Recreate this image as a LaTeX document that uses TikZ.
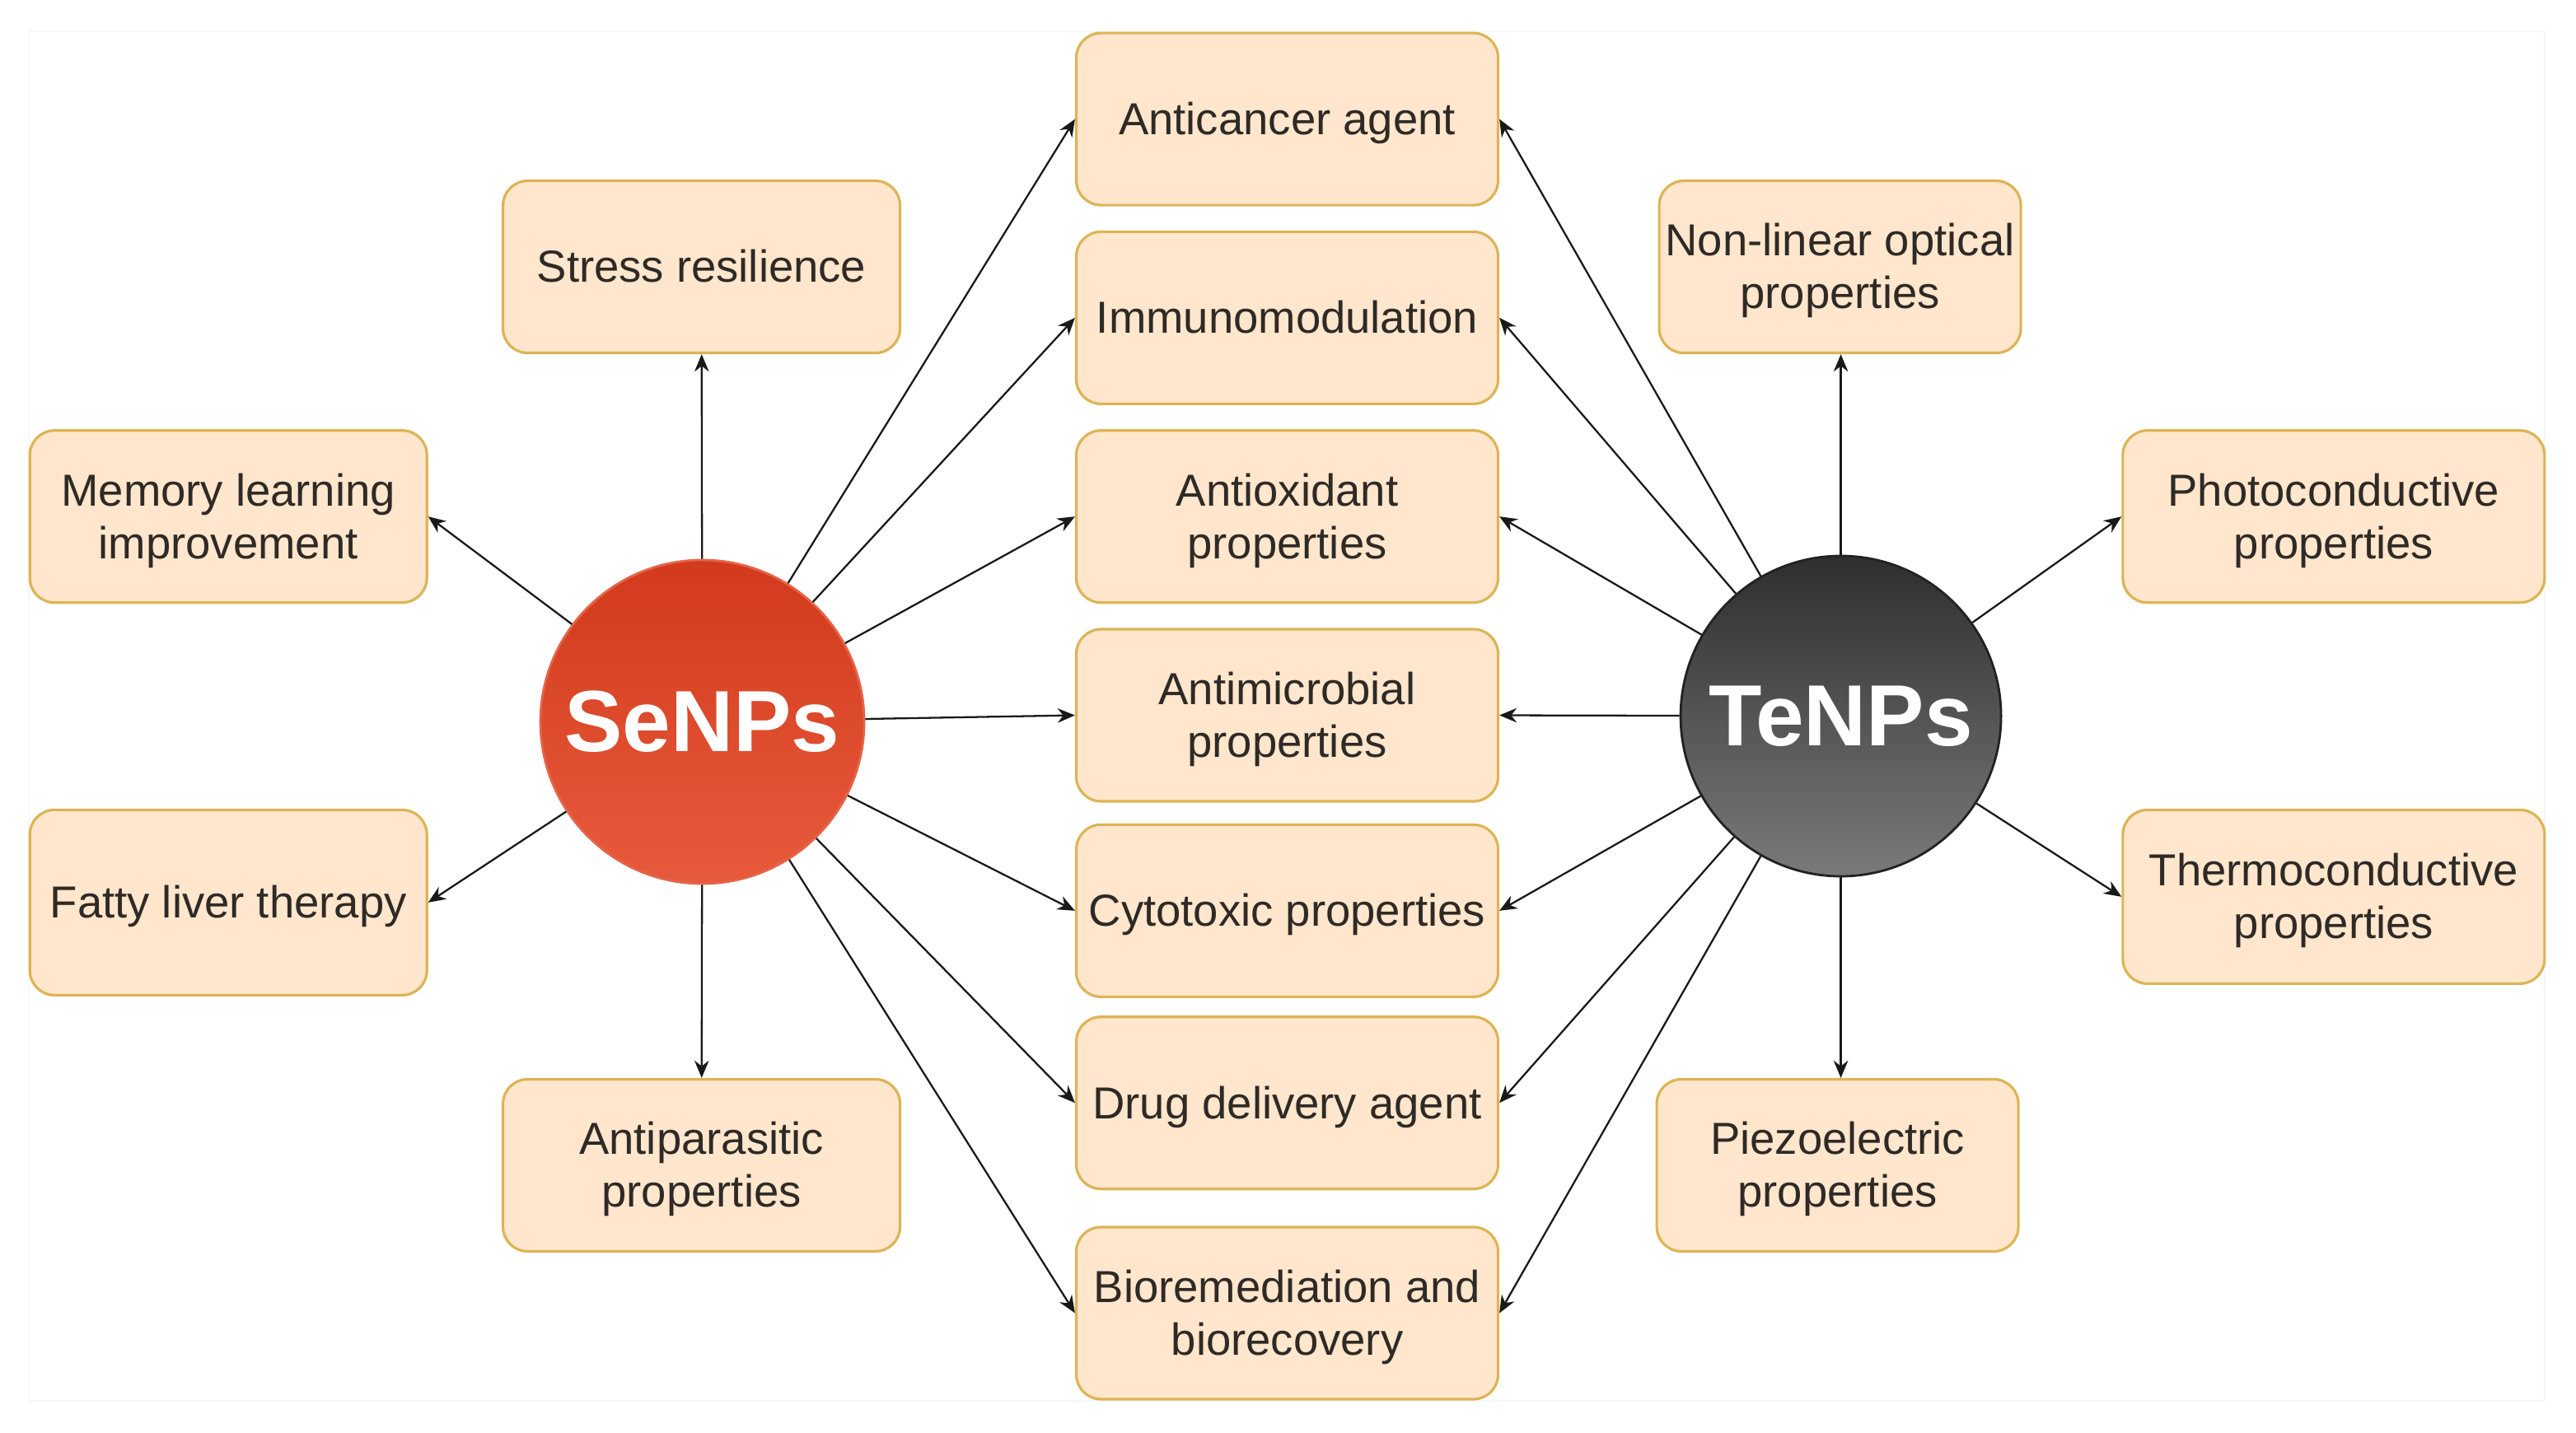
\documentclass[tikz,border=0pt]{standalone}
\usepackage{fontspec}
\setmainfont{Liberation Sans}
\usetikzlibrary{arrows.meta}
\definecolor{boxfill}{HTML}{FFE6CC}
\definecolor{boxdraw}{HTML}{DDB454}
\definecolor{txt}{HTML}{2E2A26}
\definecolor{seTop}{HTML}{D23A1C}
\definecolor{seBot}{HTML}{E85A3C}
\definecolor{seEdge}{HTML}{E4644A}
\definecolor{teTop}{HTML}{2E2E2E}
\definecolor{teBot}{HTML}{7A7A7A}
\definecolor{teEdge}{HTML}{222222}
\tikzset{
  box/.style={draw=boxdraw, fill=boxfill, line width=0.9pt, rounded corners=0.3cm,
    align=center, text=txt, inner sep=2pt, text depth=0.5pt,
    font=\fontsize{15.5}{18.2}\selectfont},
  cw/.style={minimum width=5.12cm, minimum height=2.09cm},
  lw/.style={minimum width=4.82cm, minimum height=2.09cm},
  rw/.style={minimum width=4.39cm, minimum height=2.09cm},
  pw/.style={minimum width=5.12cm, minimum height=2.09cm},
  hub/.style={circle, line width=0.8pt, text=white,
    font=\fontsize{30}{34}\selectfont\bfseries},
  arr/.style={draw=black!90, line width=0.65pt, -{Stealth[length=6pt,width=5pt]}}
}
\begin{document}
\begin{tikzpicture}[x=0.01994cm, y=-0.01994cm]
\useasboundingbox (0,0) rectangle (1568,872);
\draw[black!3, line width=0.6pt] (17.5,19) rectangle (1549,853);

% centre column
\node[box,cw] (ac) at (783.5,72.5) {Anticancer agent};
\node[box,cw] (im) at (783.5,193.5) {Immunomodulation};
\node[box,cw] (ao) at (783.5,314.5) {Antioxidant\\properties};
\node[box,cw] (am) at (783.5,435.5) {Antimicrobial\\properties};
\node[box,cw] (ct) at (783.5,554.5) {Cytotoxic properties};
\node[box,cw] (dd) at (783.5,671.5) {Drug delivery agent};
\node[box,cw] (br) at (783.5,799.5) {Bioremediation and\\biorecovery};

% left
\node[box,lw] (sr) at (427,162.5) {Stress resilience};
\node[box,lw] (ml) at (139,314.5) {Memory learning\\improvement};
\node[box,lw,minimum height=2.25cm] (fl) at (139,549.5) {Fatty liver therapy};
\node[box,lw] (ap) at (427,709.5) {Antiparasitic\\properties};

% right
\node[box,rw] (nl) at (1120,162.5) {Non-linear optical\\properties};
\node[box,pw] (pc) at (1420.5,314.5) {Photoconductive\\properties};
\node[box,pw,minimum height=2.11cm] (tc) at (1420.5,546) {Thermoconductive\\properties};
\node[box,rw] (pz) at (1118.5,709.5) {Piezoelectric\\properties};

% hubs
\node[hub, minimum size=3.93cm, draw=seEdge, top color=seTop, bottom color=seBot] (se) at (427.5,439.5) {SeNPs};
\node[hub, minimum size=3.89cm, draw=teEdge, top color=teTop, bottom color=teBot] (te) at (1120.5,436) {TeNPs};

% SeNPs connectors
\draw[arr] (se) -- (sr);
\draw[arr] (se) -- (ml.east);
\draw[arr] (se) -- (fl.east);
\draw[arr] (se) -- (ap);
\foreach \t in {ac,im,ao,am,ct,dd,br} \draw[arr] (se) -- (\t.west);

% TeNPs connectors
\draw[arr] (te) -- (te.center |- nl.south);
\draw[arr] (te) -- (pc.west);
\draw[arr] (te) -- (tc.west);
\draw[arr] (te) -- (te.center |- pz.north);
\foreach \t in {ac,im,ao,am,ct,dd,br} \draw[arr] (te) -- (\t.east);
\end{tikzpicture}
\end{document}
